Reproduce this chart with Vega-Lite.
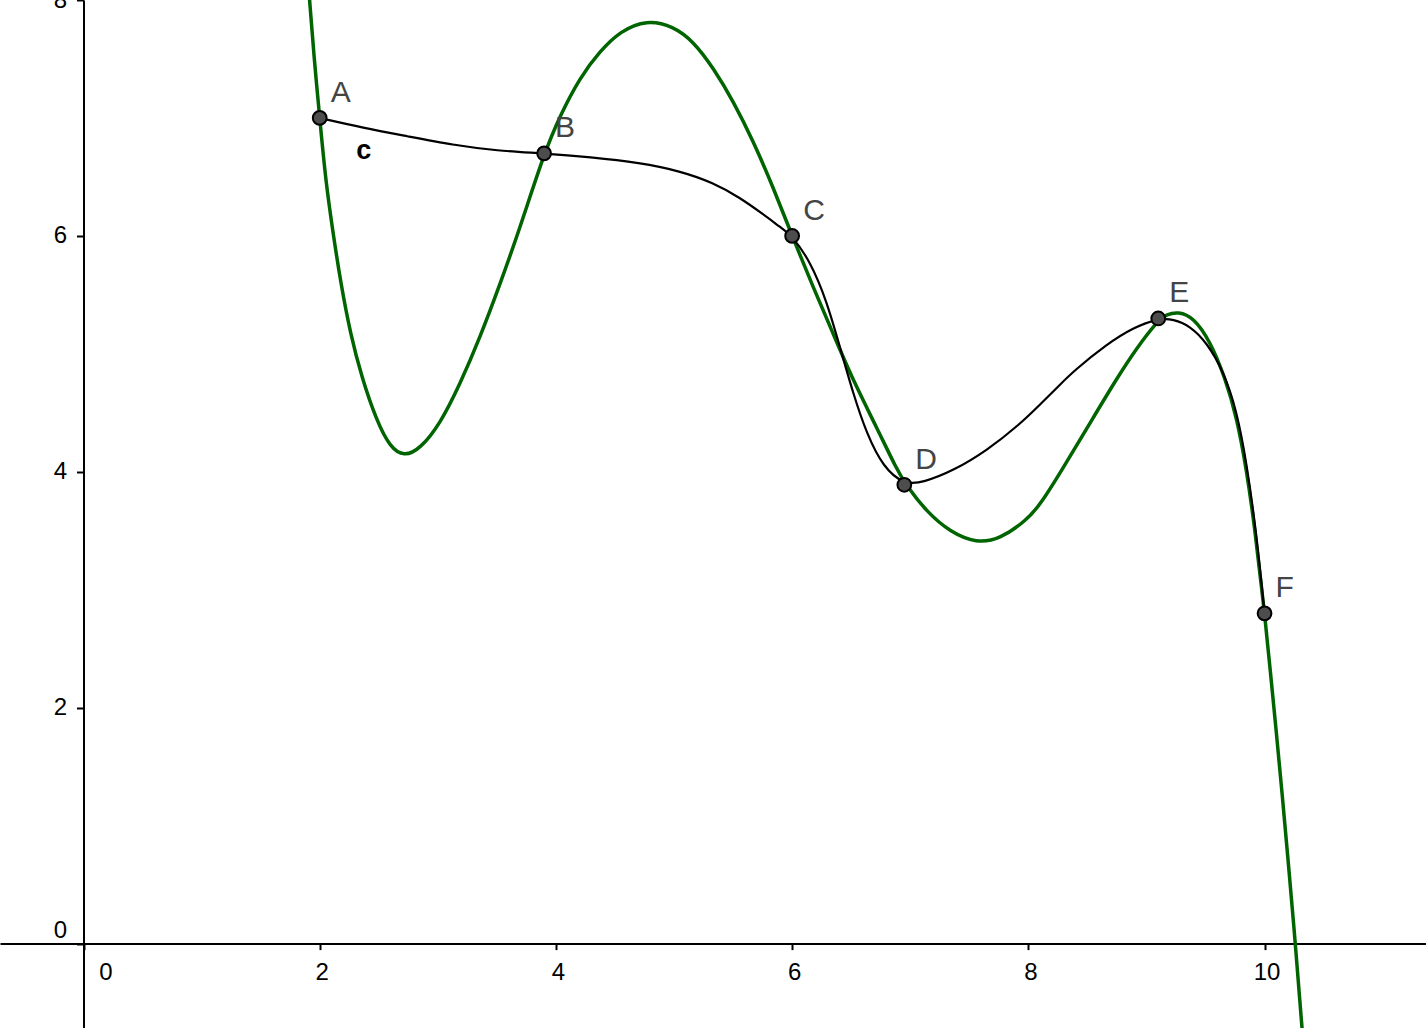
{
  "$schema": "https://vega.github.io/schema/vega-lite/v6.json",
  "width": 1426,
  "height": 1028,
  "padding": 0,
  "autosize": {"type": "none"},
  "background": "white",
  "config": {"view": {"stroke": null}},
  "datasets": {
    "poly": [
      {"x": 1.895, "y": 8.25}, {"x": 1.915, "y": 7.99}, {"x": 1.955, "y": 7.48}, {"x": 2.0, "y": 7.0},
      {"x": 2.05, "y": 6.47}, {"x": 2.115, "y": 6.01}, {"x": 2.18, "y": 5.59}, {"x": 2.26, "y": 5.17},
      {"x": 2.356, "y": 4.8}, {"x": 2.483, "y": 4.43}, {"x": 2.595, "y": 4.21}, {"x": 2.714, "y": 4.128},
      {"x": 2.849, "y": 4.193}, {"x": 3.019, "y": 4.405}, {"x": 3.188, "y": 4.743}, {"x": 3.357, "y": 5.138},
      {"x": 3.527, "y": 5.59}, {"x": 3.696, "y": 6.07}, {"x": 3.9, "y": 6.7}, {"x": 4.035, "y": 7.02},
      {"x": 4.204, "y": 7.345}, {"x": 4.373, "y": 7.566}, {"x": 4.543, "y": 7.735}, {"x": 4.769, "y": 7.834},
      {"x": 4.994, "y": 7.777}, {"x": 5.163, "y": 7.65}, {"x": 5.333, "y": 7.424}, {"x": 5.502, "y": 7.142},
      {"x": 5.671, "y": 6.804}, {"x": 5.841, "y": 6.408}, {"x": 6.0, "y": 6.0}, {"x": 6.18, "y": 5.561},
      {"x": 6.349, "y": 5.167}, {"x": 6.518, "y": 4.771}, {"x": 6.716, "y": 4.376}, {"x": 6.886, "y": 4.02},
      {"x": 6.97, "y": 3.88}, {"x": 7.14, "y": 3.66}, {"x": 7.337, "y": 3.49}, {"x": 7.563, "y": 3.394},
      {"x": 7.76, "y": 3.43}, {"x": 7.986, "y": 3.59}, {"x": 8.099, "y": 3.72}, {"x": 8.269, "y": 3.99},
      {"x": 8.55, "y": 4.46}, {"x": 8.748, "y": 4.79}, {"x": 8.917, "y": 5.05}, {"x": 9.1, "y": 5.285},
      {"x": 9.171, "y": 5.335}, {"x": 9.27, "y": 5.358}, {"x": 9.397, "y": 5.31}, {"x": 9.538, "y": 5.11},
      {"x": 9.665, "y": 4.8}, {"x": 9.765, "y": 4.461}, {"x": 9.849, "y": 4.009}, {"x": 9.92, "y": 3.501},
      {"x": 9.976, "y": 3.0}, {"x": 10.0, "y": 2.8}, {"x": 10.05, "y": 2.3}, {"x": 10.1, "y": 1.79},
      {"x": 10.15, "y": 1.26}, {"x": 10.2, "y": 0.7}, {"x": 10.25, "y": 0.13}, {"x": 10.3, "y": -0.5},
      {"x": 10.34, "y": -1.0}
    ],
    "spline": [
      {"x": 2.0, "y": 7.0}, {"x": 2.369, "y": 6.916}, {"x": 2.737, "y": 6.846}, {"x": 3.131, "y": 6.77},
      {"x": 3.499, "y": 6.722}, {"x": 3.9, "y": 6.7}, {"x": 4.289, "y": 6.668}, {"x": 4.712, "y": 6.62},
      {"x": 5.051, "y": 6.55}, {"x": 5.333, "y": 6.451}, {"x": 5.559, "y": 6.324}, {"x": 5.756, "y": 6.183},
      {"x": 5.898, "y": 6.075}, {"x": 6.0, "y": 6.0}, {"x": 6.152, "y": 5.787}, {"x": 6.293, "y": 5.449},
      {"x": 6.406, "y": 5.053}, {"x": 6.518, "y": 4.659}, {"x": 6.632, "y": 4.32}, {"x": 6.772, "y": 4.037},
      {"x": 6.95, "y": 3.89}, {"x": 7.111, "y": 3.91}, {"x": 7.365, "y": 4.009}, {"x": 7.648, "y": 4.179},
      {"x": 7.93, "y": 4.405}, {"x": 8.099, "y": 4.57}, {"x": 8.269, "y": 4.74}, {"x": 8.381, "y": 4.852},
      {"x": 8.664, "y": 5.082}, {"x": 8.889, "y": 5.223}, {"x": 9.1, "y": 5.3}, {"x": 9.228, "y": 5.294},
      {"x": 9.369, "y": 5.237}, {"x": 9.511, "y": 5.096}, {"x": 9.651, "y": 4.856}, {"x": 9.765, "y": 4.517},
      {"x": 9.849, "y": 4.066}, {"x": 9.92, "y": 3.558}, {"x": 9.976, "y": 3.05}, {"x": 10.0, "y": 2.8}
    ],
    "points": [
      {"x": 2.0, "y": 7.0, "name": "A"},
      {"x": 3.9, "y": 6.7, "name": "B"},
      {"x": 6.0, "y": 6.0, "name": "C"},
      {"x": 6.95, "y": 3.89, "name": "D"},
      {"x": 9.1, "y": 5.3, "name": "E"},
      {"x": 10.0, "y": 2.8, "name": "F"}
    ],
    "curvelabel": [
      {"x": 2.373, "y": 6.65, "name": "c"}
    ]
  },
  "encoding": {
    "x": {
      "field": "x",
      "type": "quantitative",
      "scale": {"domain": [-0.707, 11.367], "nice": false, "zero": false},
      "axis": {
        "values": [0, 2, 4, 6, 8, 10],
        "offset": -84.4,
        "title": null,
        "grid": false,
        "domainColor": "black",
        "domainWidth": 2,
        "tickColor": "black",
        "tickWidth": 2,
        "tickSize": 6,
        "labelFont": "Liberation Sans",
        "labelFontSize": 24,
        "labelColor": "black",
        "labelPadding": 11,
        "labelFlush": false,
        "labelOverlap": false,
        "labelBound": false,
        "labelOffset": {"condition": {"test": "datum.value === 0", "value": 22}, "value": 2}
      }
    },
    "y": {
      "field": "y",
      "type": "quantitative",
      "scale": {"domain": [-0.7155, 8], "nice": false, "zero": false},
      "axis": {
        "values": [0, 2, 4, 6, 8],
        "offset": -83.5,
        "title": null,
        "grid": false,
        "domainColor": "black",
        "domainWidth": 2,
        "tickColor": "black",
        "tickWidth": 2,
        "tickSize": 7,
        "labelFont": "Liberation Sans",
        "labelFontSize": 24,
        "labelColor": "black",
        "labelPadding": 10,
        "labelFlush": false,
        "labelOverlap": false,
        "labelBound": false,
        "labelOffset": {"condition": {"test": "datum.value === 0", "value": -13}, "value": 0}
      }
    }
  },
  "layer": [
    {
      "data": {"name": "poly"},
      "mark": {"type": "line", "color": "#006400", "strokeWidth": 3.5, "interpolate": "basis", "clip": true}
    },
    {
      "data": {"name": "spline"},
      "mark": {"type": "line", "color": "black", "strokeWidth": 2.2, "interpolate": "basis", "clip": true}
    },
    {
      "data": {"name": "points"},
      "mark": {"type": "point", "shape": "circle", "filled": true, "fill": "#4d4d4d", "stroke": "black", "strokeWidth": 2, "opacity": 1, "size": 190}
    },
    {
      "data": {"name": "points"},
      "mark": {"type": "text", "align": "left", "baseline": "alphabetic", "dx": 11, "dy": -16, "font": "Liberation Sans", "fontSize": 30, "color": "#444444"},
      "encoding": {"text": {"field": "name"}}
    },
    {
      "data": {"name": "curvelabel"},
      "mark": {"type": "text", "align": "center", "baseline": "alphabetic", "font": "Liberation Sans", "fontSize": 27, "fontWeight": "bold", "color": "black"},
      "encoding": {"text": {"field": "name"}}
    }
  ]
}
